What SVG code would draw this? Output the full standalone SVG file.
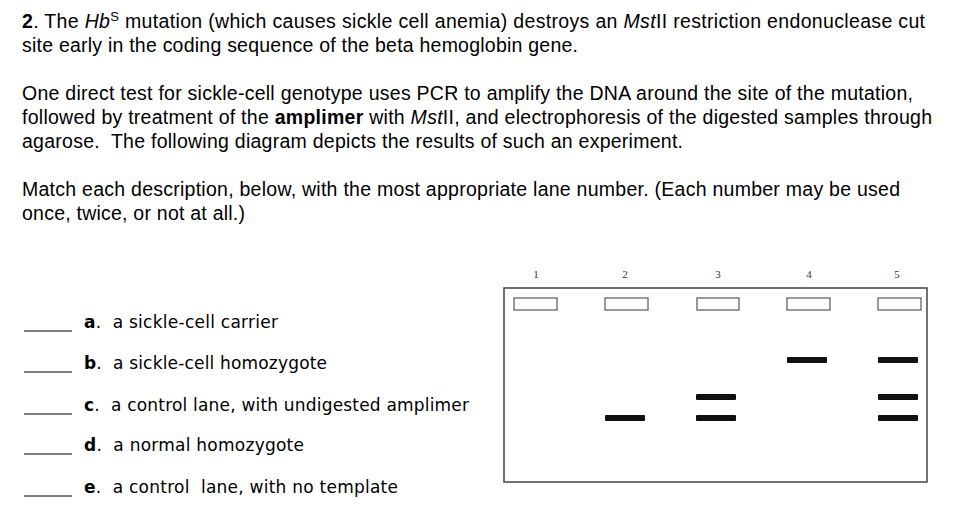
<svg xmlns="http://www.w3.org/2000/svg" width="974" height="531" viewBox="0 0 974 531">
<style>
.t{font-family:"Liberation Sans",Arial,sans-serif;font-size:19.5px;fill:#000}
.q{font-family:"DejaVu Sans",Verdana,sans-serif;font-size:17px;fill:#000}
.n{font-family:"Liberation Serif",serif;font-size:11px;fill:#333;text-anchor:middle}
.w{fill:#fff;stroke:#777;stroke-width:1.5}
.b{fill:#111}
.l{stroke:#000;stroke-width:1}
</style>
<rect width="974" height="531" fill="#fff"/>
<g id="text">
<text class="t" x="22" y="28" textLength="903" lengthAdjust="spacing"><tspan font-weight="bold">2</tspan>.  The <tspan font-style="italic">Hb</tspan><tspan font-size="13" dy="-7">S</tspan><tspan dy="7"> mutation (which causes sickle cell anemia) destroys an </tspan><tspan font-style="italic">Mst</tspan>II restriction endonuclease cut</text>
<text class="t" x="22" y="52" textLength="556" lengthAdjust="spacing">site early in the coding sequence of the beta hemoglobin gene.</text>
<text class="t" x="22" y="100" textLength="891" lengthAdjust="spacing">One direct test for sickle-cell genotype uses PCR to amplify the DNA around the site of the mutation,</text>
<text class="t" x="22" y="124" textLength="910" lengthAdjust="spacing">followed by treatment of the <tspan font-weight="bold">amplimer</tspan> with <tspan font-style="italic">Mst</tspan>II, and electrophoresis of the digested samples through</text>
<text class="t" x="22" y="148" textLength="661" lengthAdjust="spacing" xml:space="preserve">agarose.  The following diagram depicts the results of such an experiment.</text>
<text class="t" x="22" y="196" textLength="878" lengthAdjust="spacing">Match each description, below, with the most appropriate lane number. (Each number may be used</text>
<text class="t" x="22" y="220" textLength="223" lengthAdjust="spacing">once, twice, or not at all.)</text>
</g>
<g id="questions">
<line class="l" x1="24" y1="331" x2="72" y2="331"/>
<line class="l" x1="24" y1="372" x2="72" y2="372"/>
<line class="l" x1="24" y1="414" x2="72" y2="414"/>
<line class="l" x1="24" y1="454" x2="72" y2="454"/>
<line class="l" x1="24" y1="496" x2="72" y2="496"/>
<text class="q" x="84" y="328" textLength="194" lengthAdjust="spacing" xml:space="preserve"><tspan font-weight="bold">a</tspan>.  a sickle-cell carrier</text>
<text class="q" x="84" y="369" textLength="243" lengthAdjust="spacing" xml:space="preserve"><tspan font-weight="bold">b</tspan>.  a sickle-cell homozygote</text>
<text class="q" x="84" y="411" textLength="385" lengthAdjust="spacing" xml:space="preserve"><tspan font-weight="bold">c</tspan>.  a control lane, with undigested amplimer</text>
<text class="q" x="84" y="451" textLength="220" lengthAdjust="spacing" xml:space="preserve"><tspan font-weight="bold">d</tspan>.  a normal homozygote</text>
<text class="q" x="84" y="493" textLength="314" lengthAdjust="spacing" xml:space="preserve"><tspan font-weight="bold">e</tspan>.  a control  lane, with no template</text>
</g>
<g id="gel">
<rect x="504" y="288" width="423" height="194" fill="none" stroke="#444" stroke-width="1.5"/>
<text class="n" x="536" y="278">1</text>
<text class="n" x="625" y="278">2</text>
<text class="n" x="718" y="278">3</text>
<text class="n" x="809" y="278">4</text>
<text class="n" x="897" y="278">5</text>
<rect class="w" x="514" y="298" width="43" height="12"/>
<rect class="w" x="605" y="298" width="43" height="12"/>
<rect class="w" x="697" y="298" width="42" height="12"/>
<rect class="w" x="787" y="298" width="43" height="12"/>
<rect class="w" x="878" y="298" width="43" height="12"/>
<rect class="b" x="605" y="415" width="40" height="6" rx="1"/>
<rect class="b" x="696" y="394" width="40" height="6" rx="1"/>
<rect class="b" x="696" y="415" width="40" height="6" rx="1"/>
<rect class="b" x="787" y="357" width="40" height="6" rx="1"/>
<rect class="b" x="878" y="357" width="40" height="6" rx="1"/>
<rect class="b" x="878" y="394" width="40" height="6" rx="1"/>
<rect class="b" x="878" y="415" width="40" height="6" rx="1"/>
</g>
</svg>
